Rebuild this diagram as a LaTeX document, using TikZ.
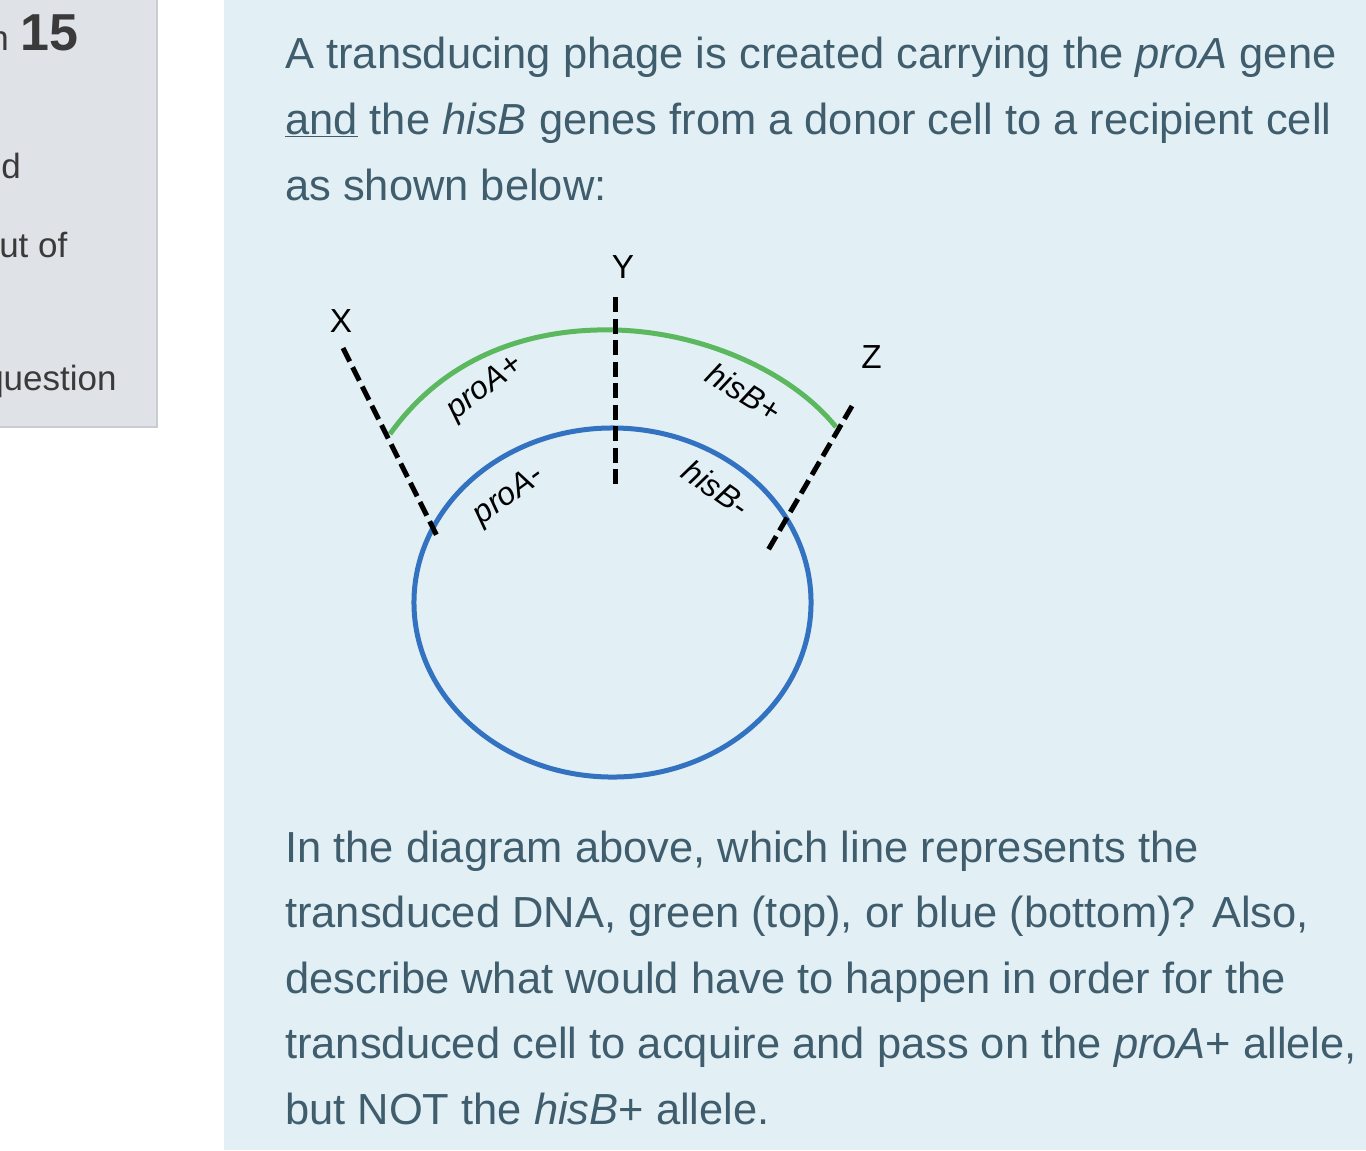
\documentclass[tikz,border=0pt]{standalone}
\usepackage{fontspec}
\setmainfont{Liberation Sans}
\definecolor{pagebg}{HTML}{E2F0F6}
\definecolor{panelbg}{HTML}{DFE2E7}
\definecolor{panelline}{HTML}{C9CCD1}
\definecolor{paneltext}{HTML}{3A3A3A}
\definecolor{bodytext}{HTML}{3F5D6C}
\definecolor{dnagreen}{HTML}{5CB85E}
\definecolor{dnablue}{HTML}{3272C0}

\begin{document}
\begin{tikzpicture}[x=0.75pt,y=-0.75pt,
    body/.style={anchor=base west,inner sep=0pt,text=bodytext,
      font=\fontsize{32.6}{40}\selectfont},
    side/.style={anchor=base west,inner sep=0pt,text=paneltext,
      font=\fontsize{26.25}{30}\selectfont},
    cut/.style={line width=3.75pt,dash pattern=on 11.25pt off 4.9pt},
    endlab/.style={inner sep=0pt,font=\fontsize{25}{28}\selectfont},
    gene/.style={inner sep=0pt,font=\fontsize{24}{28}\selectfont\itshape}]
  \useasboundingbox (0,0) rectangle (1366,1150);
  % page and side panel
  \fill[white] (0,0) rectangle (1366,1150);
  \fill[pagebg] (224,0) rectangle (1366,1150);
  \fill[panelbg] (0,0) rectangle (157,427);
  \draw[panelline,line width=1.5pt] (157,0) -- (157,427) -- (0,427);
  \node[side,anchor=base east] (pn) at (9,50) {n};
  \node[anchor=base west,inner sep=0pt,text=paneltext,
    font=\fontsize{39}{44}\selectfont\bfseries] (pnum) at (20,50) {15};
  \node[side] (pd) at (1,178) {d};
  \node[side] (pout) at (-1,257) {ut of};
  \node[side] (pq) at (-16,390) {question};
  % question text
  \node[body] (l1) at (285,68) {A transducing phage is created carrying the \textit{proA} gene};
  \node[body] (l2) at (285,134) {\underline{and} the \textit{hisB} genes from a donor cell to a recipient cell};
  \node[body] (l3) at (285,200) {as shown below:};
  \node[body] (q1) at (285,862) {In the diagram above, which line represents the};
  \node[body] (q2) at (285,927.5) {transduced DNA, green (top), or blue (bottom)? Also,};
  \node[body] (q3) at (285,993) {describe what would have to happen in order for the};
  \node[body] (q4) at (285,1058.5) {transduced cell to acquire and pass on the \textit{proA}+ allele,};
  \node[body] (q5) at (285,1124) {but NOT the \textit{hisB}+ allele.};
  % recipient chromosome and transduced fragment
  \draw[dnablue,line width=3.75pt] (612.5,602.5) ellipse [x radius=148.9pt,y radius=130.9pt];
  \draw[dnagreen,line width=3.75pt] (390,434) .. controls (450,350) and (540,328) .. (615,330)
    .. controls (700,332) and (790,370) .. (836,427);
  % crossover lines
  \coordinate (xtop) at (343,348);
  \coordinate (xbot) at (439,540);
  \coordinate (ytop) at (615,297);
  \coordinate (ybot) at (615,489);
  \coordinate (ztop) at (852,406);
  \coordinate (zbot) at (767,552);
  \draw[cut] (xtop) -- (xbot);
  \draw[cut] (ytop) -- (ybot);
  \draw[cut] (ztop) -- (zbot);
  \node[endlab] (xlab) at (341,321.5) {X};
  \node[endlab] (ylab) at (623,267) {Y};
  \node[endlab] (zlab) at (871.5,357) {Z};
  \node[gene,rotate=37] (proAp) at (485,388) {proA+};
  \node[gene,rotate=36] (proAm) at (509,496) {proA-};
  \node[gene,rotate=-32] (hisBp) at (744,392) {hisB+};
  \node[gene,rotate=-35] (hisBm) at (716,488) {hisB-};
\end{tikzpicture}
\end{document}
